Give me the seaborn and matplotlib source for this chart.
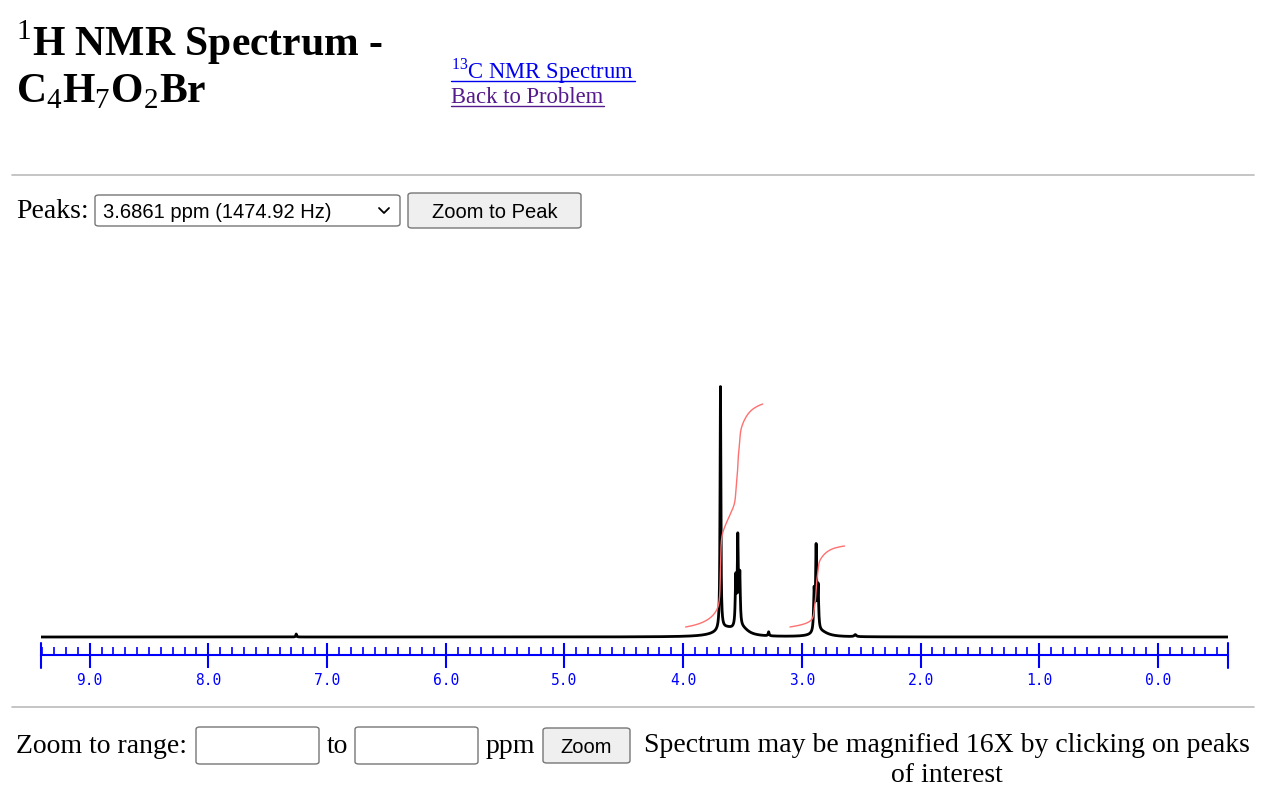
import numpy as np
import pandas as pd
import matplotlib
matplotlib.use("Agg")
import matplotlib.pyplot as plt
import seaborn as sns
from matplotlib.patches import FancyBboxPatch

# peak list: position (ppm), height, half width (ppm)
peak_ppm = [3.686, 3.557, 3.540, 3.523, 2.897, 2.880, 2.863, 7.26, 3.28, 2.55, 3.64, 3.50, 2.84]
peak_height = [243, 48, 88, 50, 40, 83, 42, 3, 4, 2, 8, 6, 5]
peak_width = [0.004, 0.005, 0.005, 0.005, 0.005, 0.005, 0.005, 0.004, 0.005, 0.01, 0.1, 0.06, 0.07]

# integral regions: start ppm, end ppm, top level
integ_start = [3.98, 3.10]
integ_end = [3.33, 2.64]
integ_top = [233, 91]

tick_labels = ["9.0", "8.0", "7.0", "6.0", "5.0", "4.0", "3.0", "2.0", "1.0", "0.0"]

x_left, x_right = 9.41, -0.59
ppm = np.linspace(x_left, x_right, 20001)
spec = np.zeros_like(ppm)
for p, h, w in zip(peak_ppm, peak_height, peak_width):
    spec += h * w**2 / ((ppm - p)**2 + w**2)
df = pd.DataFrame({"ppm": ppm, "intensity": spec})

sns.set_style("white")
plt.rcParams["text.color"] = "black"
fig = plt.figure(figsize=(12.64, 7.92), dpi=100)
W, H = 1264, 792

def fx(x):
    return x / W

def fy(y):
    return 1 - y / H

# spectrum axes: top at y=380 px, bottom (axis line) at y=655 px
ax = fig.add_axes([fx(41), fy(655), fx(1228 - 41), (655 - 380) / H])
sns.lineplot(data=df, x="ppm", y="intensity", ax=ax, color="black", lw=2.0, estimator=None, sort=False)
for s, e, top in zip(integ_start, integ_end, integ_top):
    m = (ppm <= s) & (ppm >= e)
    c = np.cumsum(spec[m])
    c = (c - c[0]) / (c[-1] - c[0])
    ax.plot(ppm[m], 10 + c * (top - 10), color="#ff7070", lw=1.0)
ax.set_xlim(x_left, x_right)
ax.set_ylim(-18, 257)
ax.set_xlabel("")
ax.set_ylabel("")
for sp in ["top", "left", "right"]:
    ax.spines[sp].set_visible(False)
ax.spines["bottom"].set_color("#0000ff")
ax.spines["bottom"].set_linewidth(1.5)
ax.set_yticks([])
ax.set_xticks([9, 8, 7, 6, 5, 4, 3, 2, 1, 0])
ax.set_xticklabels(tick_labels, family="DejaVu Sans Mono", color="#0000ff", fontsize=10.5)
ax.set_xticks(np.arange(-0.5, 9.45, 0.1), minor=True)
ax.tick_params(axis="x", which="both", bottom=True)
ax.tick_params(axis="x", which="major", direction="inout", length=18, width=1.5, color="#0000ff", pad=4)
ax.tick_params(axis="x", which="minor", direction="in", length=6, width=1.2, color="#0000ff")
for xe in [x_left, x_right]:
    ax.plot([xe, xe], [-31, -6], color="#0000ff", lw=1.5, clip_on=False)

# page elements
plt.rcParams["mathtext.fontset"] = "custom"
plt.rcParams["mathtext.rm"] = "Liberation Serif:bold"
serif = "Liberation Serif"
fig.text(fx(16), fy(56), r"$^{\mathrm{1}}$H NMR Spectrum -", family=serif, weight="bold", fontsize=30, va="baseline")
fig.text(fx(16), fy(102), r"C$_{\mathrm{4}}$H$_{\mathrm{7}}$O$_{\mathrm{2}}$Br", family=serif, weight="bold", fontsize=30, va="baseline")

plt.rcParams["mathtext.rm"] = "Liberation Serif"
fig.text(fx(451), fy(78), r"$^{\mathrm{13}}$C NMR Spectrum", family=serif, fontsize=16.3, color="#0000ee", va="baseline")
fig.text(fx(451), fy(103), "Back to Problem", family=serif, fontsize=16.3, color="#551a8b", va="baseline")
fig.add_artist(plt.Line2D([fx(451), fx(635)], [fy(81), fy(81)], color="#0000ee", lw=1))
fig.add_artist(plt.Line2D([fx(451), fx(604)], [fy(106), fy(106)], color="#551a8b", lw=1))

for yy in [175, 707]:
    fig.add_artist(plt.Line2D([fx(12), fx(1254)], [fy(yy), fy(yy)], color="#bbbbbb", lw=1.2))

def box(x0, y0, x1, y1, fc="white", ec="#767676"):
    fig.add_artist(FancyBboxPatch((fx(x0), fy(y1)), fx(x1 - x0), (y1 - y0) / H,
                                  boxstyle="round,pad=0,rounding_size=0.003", fc=fc, ec=ec, lw=1))

body = 20
fig.text(fx(16), fy(218), "Peaks:", family=serif, fontsize=body, va="baseline")
box(95, 195, 400, 226)
fig.text(fx(103), fy(218), "3.6861 ppm (1474.92 Hz)", family="Liberation Sans", fontsize=14.5, va="baseline")
fig.add_artist(plt.Line2D([fx(379), fx(384), fx(389)], [fy(208), fy(213), fy(208)], color="black", lw=1.3))
box(408, 193, 581, 228, fc="#efefef")
fig.text(fx(494.5), fy(218), "Zoom to Peak", family="Liberation Sans", fontsize=14.5, va="baseline", ha="center")

fig.text(fx(16), fy(753), "Zoom to range:", family=serif, fontsize=body, va="baseline")
box(196, 727, 319, 764)
fig.text(fx(327), fy(753), "to", family=serif, fontsize=body, va="baseline")
box(355, 727, 478, 764)
fig.text(fx(486), fy(753), "ppm", family=serif, fontsize=body, va="baseline")
box(543, 728, 630, 763, fc="#efefef")
fig.text(fx(586.5), fy(753), "Zoom", family="Liberation Sans", fontsize=14.5, va="baseline", ha="center")
fig.text(fx(947), fy(752), "Spectrum may be magnified 16X by clicking on peaks", family=serif, fontsize=body, va="baseline", ha="center")
fig.text(fx(947), fy(782), "of interest", family=serif, fontsize=body, va="baseline", ha="center")

fig.savefig("out.png", dpi=100, facecolor="white")
